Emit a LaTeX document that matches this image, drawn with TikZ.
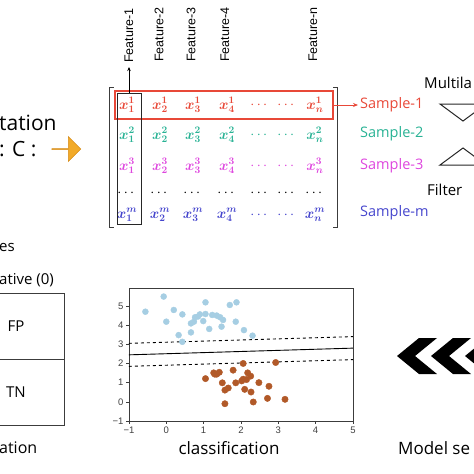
\documentclass[tikz,border=0pt]{standalone}
\usepackage{fontspec}
\usepackage{amsmath}
\usepackage{bm}
\setmainfont{Open Sans}
\newfontfamily\arialfont{Liberation Sans}
\usetikzlibrary{arrows.meta,positioning,calc,shapes.arrows}
\definecolor{SampRed}{RGB}{232,72,56}
\definecolor{SampTeal}{RGB}{40,178,148}
\definecolor{SampPink}{RGB}{222,70,222}
\definecolor{SampBlue}{RGB}{70,70,205}
\definecolor{ArrowGold}{RGB}{242,170,40}
\definecolor{ArrowGoldDark}{RGB}{214,140,25}
\definecolor{PtBlue}{RGB}{166,206,227}
\definecolor{PtBrown}{RGB}{177,89,40}
\definecolor{FrameGray}{RGB}{60,60,60}
\tikzset{
  entry/.style={font=\fontsize{14}{15}\selectfont, inner sep=0pt},
  rowa/.style={entry, text=SampRed},
  rowb/.style={entry, text=SampTeal},
  rowc/.style={entry, text=SampPink},
  rowd/.style={entry, text=black},
  rowm/.style={entry, text=SampBlue},
  featlabel/.style={font=\arialfont\fontsize{12.5}{14}\selectfont, rotate=90, anchor=west, inner sep=0pt},
  samplabel/.style={font=\fontsize{14.5}{16}\selectfont, anchor=west, inner sep=0pt},
  sidetext/.style={font=\fontsize{15}{17}\selectfont, anchor=west, inner sep=0pt},
  bigtext/.style={font=\fontsize{21}{24}\selectfont, anchor=west, inner sep=0pt},
  redbox/.style={draw=SampRed, line width=1.4pt, inner sep=0pt},
  colbox/.style={draw=black!85, line width=0.9pt, inner sep=0pt},
  bracket/.style={draw=FrameGray, line width=1.2pt},
  cell/.style={draw=FrameGray, line width=0.8pt, minimum width=96pt, minimum height=66pt,
               font=\fontsize{15}{17}\selectfont},
  goldarrow/.style={single arrow, fill=ArrowGold, draw=ArrowGoldDark, line width=0.5pt,
               minimum height=29pt, minimum width=25pt, single arrow head extend=6pt, inner sep=0pt},
  redarrow/.style={-{Stealth[length=5pt,width=4pt]}, line width=1pt, SampRed, shorten >=2pt},
  featarrow/.style={-{Stealth[length=4pt,width=3.5pt]}, line width=0.8pt, black, shorten >=4pt},
  tri/.style={draw=black!85, line width=1pt},
  chevron/.style={fill=black},
  tickline/.style={draw=FrameGray, line width=0.5pt},
  ylab/.style={left, font=\arialfont\fontsize{9.5}{10}\selectfont, text=black!75, inner sep=2pt},
  xlab/.style={below, font=\arialfont\fontsize{9.5}{10}\selectfont, text=black!75, inner sep=2pt},
}

\begin{document}
\begin{tikzpicture}[x=1pt, y=-1pt]

  \useasboundingbox (0,0) rectangle (474,474);
  \clip (0,0) rectangle (474,474);

  % --- Representacao (texto cortado a esquerda) -------------------------------
  \node[bigtext] (reptext) at (-1,123) {tation};
  \node[bigtext] (reptype) at (-1,149) {: C :};
  \node[goldarrow] (goldarr) at (66,149) {};

  % --- Matriz de amostras x atributos -------------------------------------------
  \node[rowa] (x11) at (127,105) {$\bm{x_1^1}$};
  \node[rowa] (x12) at (160,105) {$\bm{x_2^1}$};
  \node[rowa] (x13) at (193,105) {$\bm{x_3^1}$};
  \node[rowa] (x14) at (227,105) {$\bm{x_4^1}$};
  \node[rowa] (x15) at (260,105) {$\cdots$};
  \node[rowa] (x16) at (287,105) {$\cdots$};
  \node[rowa] (x1n) at (315,105) {$\bm{x_n^1}$};

  \node[rowb] (x21) at (127,135) {$\bm{x_1^2}$};
  \node[rowb] (x22) at (160,135) {$\bm{x_2^2}$};
  \node[rowb] (x23) at (193,135) {$\bm{x_3^2}$};
  \node[rowb] (x24) at (227,135) {$\bm{x_4^2}$};
  \node[rowb] (x25) at (260,135) {$\cdots$};
  \node[rowb] (x26) at (287,135) {$\cdots$};
  \node[rowb] (x2n) at (315,135) {$\bm{x_n^2}$};

  \node[rowc] (x31) at (127,166) {$\bm{x_1^3}$};
  \node[rowc] (x32) at (160,166) {$\bm{x_2^3}$};
  \node[rowc] (x33) at (193,166) {$\bm{x_3^3}$};
  \node[rowc] (x34) at (227,166) {$\bm{x_4^3}$};
  \node[rowc] (x35) at (260,166) {$\cdots$};
  \node[rowc] (x36) at (287,166) {$\cdots$};
  \node[rowc] (x3n) at (315,166) {$\bm{x_n^3}$};

  \node[rowd] (xd1) at (127,193) {$\cdots$};
  \node[rowd] (xd2) at (160,193) {$\cdots$};
  \node[rowd] (xd3) at (193,193) {$\cdots$};
  \node[rowd] (xd4) at (227,193) {$\cdots$};
  \node[rowd] (xd5) at (260,193) {$\cdots$};
  \node[rowd] (xd6) at (287,193) {$\cdots$};
  \node[rowd] (xdn) at (315,193) {$\cdots$};

  \node[rowm] (xm1) at (127,215) {$\bm{x_1^m}$};
  \node[rowm] (xm2) at (160,215) {$\bm{x_2^m}$};
  \node[rowm] (xm3) at (193,215) {$\bm{x_3^m}$};
  \node[rowm] (xm4) at (227,215) {$\bm{x_4^m}$};
  \node[rowm] (xm5) at (260,215) {$\cdots$};
  \node[rowm] (xm6) at (287,215) {$\cdots$};
  \node[rowm] (xmn) at (315,215) {$\bm{x_n^m}$};

  % colchetes da matriz
  \node[minimum width=227pt, minimum height=139pt, inner sep=0pt] (matbox) at (223.5,157.5) {};
  \draw[bracket] ([xshift=4pt]matbox.north west) -- (matbox.north west) -- (matbox.south west) -- ([xshift=4pt]matbox.south west);
  \draw[bracket] ([xshift=-4pt]matbox.north east) -- (matbox.north east) -- (matbox.south east) -- ([xshift=-4pt]matbox.south east);

  % destaque: primeira linha (amostra) e primeira coluna (atributo)
  \node[redbox, minimum width=218pt, minimum height=28pt] (row1box) at (224,105) {};
  \node[colbox, minimum width=24pt, minimum height=131pt] (col1box) at (129,158.5) {};

  % --- Rotulos dos atributos -------------------------------------------------------
  \node[featlabel] (feat1) at (129,63) {Feature-1};
  \node[featlabel] (feat2) at (159,62) {Feature-2};
  \node[featlabel] (feat3) at (191,62) {Feature-3};
  \node[featlabel] (feat4) at (225,62) {Feature-4};
  \node[featlabel] (featn) at (313,62) {Feature-n};
  \draw[featarrow] (col1box.north) -- (col1box.north |- feat1.west);

  % --- Rotulos das amostras -------------------------------------------------------
  \node[samplabel, text=SampRed]  (samp1) at (360,105) {Sample-1};
  \node[samplabel, text=SampTeal] (samp2) at (360,134) {Sample-2};
  \node[samplabel, text=SampPink] (samp3) at (360,166) {Sample-3};
  \node[samplabel, text=SampBlue] (sampm) at (360,213) {Sample-m};
  \draw[redarrow] (row1box.east) -- (samp1.west);

  % --- Selecao de atributos (cortado a direita) ----------------------------------
  \node[sidetext] (multi) at (424,83) {Multila};
  \draw[tri] (440,104) -- (486,104) -- (463,121) -- cycle;
  \draw[tri] (440,165) -- (486,165) -- (463,148) -- cycle;
  \node[sidetext] (filter) at (427,190) {Filter};

  % --- Matriz de confusao (cortada a esquerda) -----------------------------------
  \node[sidetext] (valtext) at (-1,247) {es};
  \node[sidetext] (negtext) at (-1,280) {ative (0)};
  \node[cell] (fp) at (16,326) {FP};
  \node[cell] (tn) at (16,392) {TN};
  \node[sidetext, font=\fontsize{16}{18}\selectfont] (evaltext) at (-1,448) {ation};

  % --- Classificacao (SVM) ---------------------------------------------------------
  \begin{scope}[shift={(166.3,401.8)}, x=37.33pt, y=19.17pt]
    \draw[tickline] (-1,-1) rectangle (5,5.9);
    \draw[tickline]
      (-1,-1) -- ++(-0.09,0) node[ylab]{−1}
      (-1,0) -- ++(-0.09,0) node[ylab]{0}
      (-1,1) -- ++(-0.09,0) node[ylab]{1}
      (-1,2) -- ++(-0.09,0) node[ylab]{2}
      (-1,3) -- ++(-0.09,0) node[ylab]{3}
      (-1,4) -- ++(-0.09,0) node[ylab]{4}
      (-1,5) -- ++(-0.09,0) node[ylab]{5};
    \draw[tickline]
      (-1,-1) -- ++(0,-0.18) node[xlab]{−1}
      (0,-1) -- ++(0,-0.18) node[xlab]{0}
      (1,-1) -- ++(0,-0.18) node[xlab]{1}
      (2,-1) -- ++(0,-0.18) node[xlab]{2}
      (3,-1) -- ++(0,-0.18) node[xlab]{3}
      (4,-1) -- ++(0,-0.18) node[xlab]{4}
      (5,-1) -- ++(0,-0.18) node[xlab]{5};
    \draw[line width=0.9pt, dashed] (-1,3.05) -- (5,3.4);
    \draw[line width=0.9pt] (-1,2.45) -- (5,2.8);
    \draw[line width=0.9pt, dashed] (-1,1.85) -- (5,2.2);
    \draw plot[only marks, mark=*, mark size=3pt, mark options={fill=PtBlue, draw=PtBlue}] coordinates {
      (-0.56,4.70) (-0.07,5.49) (0.0,4.18) (0.2,4.79) (0.43,4.56) (0.33,3.48) (0.43,3.13)
      (0.66,3.62) (0.66,4.09) (0.77,4.41) (0.74,4.18) (0.9,4.56) (1.05,4.58) (1.05,5.19)
      (0.99,4.21) (1.15,3.80) (1.23,4.53) (1.44,4.41) (1.52,4.27) (1.48,3.92) (1.7,5.05)
      (1.88,5.19) (1.86,4.18) (2.08,3.74) (2.31,3.45) (0.85,4.45) (1.35,4.5)};
    \draw plot[only marks, mark=*, mark size=3.2pt, mark options={fill=PtBrown, draw=PtBrown}] coordinates {
      (1.05,1.21) (1.27,1.51) (1.35,1.44) (1.42,1.54) (1.79,1.65) (2.06,2.0) (2.93,2.05)
      (2.18,1.51) (2.26,1.34) (2.06,1.18) (2.02,1.09) (2.15,1.16) (1.5,0.99) (1.86,0.99)
      (2.48,1.0) (2.75,0.81) (1.66,0.72) (1.57,0.61) (2.1,0.65) (2.27,0.51) (2.71,0.18)
      (3.18,0.13) (1.57,-0.1) (2.33,-0.01) (1.3,1.44)};
  \end{scope}
  \node[font=\fontsize{17}{19}\selectfont, inner sep=0pt] (classtext) at (229,448) {classification};

  % --- Selecao de modelo (cortado a direita) -------------------------------------
  \fill[chevron] (397,356) -- (419,338) -- (437,338) -- (415,356) -- (437,374) -- (419,374) -- cycle;
  \fill[chevron] (431,356) -- (453,338) -- (471,338) -- (449,356) -- (471,374) -- (453,374) -- cycle;
  \fill[chevron] (465,356) -- (487,338) -- (505,338) -- (483,356) -- (505,374) -- (487,374) -- cycle;
  \node[sidetext, font=\fontsize{17}{19}\selectfont] (modeltext) at (398,448) {Model se};

\end{tikzpicture}
\end{document}
